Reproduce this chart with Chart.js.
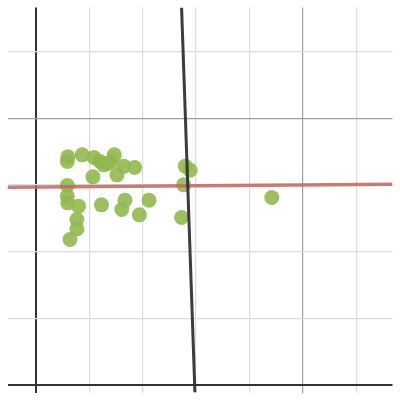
<!DOCTYPE html>
<html><head><script src="https://cdn.jsdelivr.net/npm/chart.js@4"></script>
<style>html,body{margin:0;padding:0;background:#fff}#w{width:400px;height:400px}</style></head>
<body><div id="w"><canvas id="c"></canvas></div>
<script>
const xs=[0.60,0.59,0.87,1.09,1.20,1.27,1.34,1.41,1.47,1.65,1.85,1.07,1.52,0.59,0.59,0.60,0.80,1.23,1.67,1.61,2.12,1.94,0.77,0.77,0.64,2.80,2.89,2.77,2.73,4.42];
const ys=[3.42,3.35,3.45,3.41,3.35,3.30,3.32,3.35,3.45,3.28,3.26,3.12,3.15,2.99,2.83,2.73,2.68,2.70,2.77,2.63,2.77,2.55,2.48,2.34,2.18,3.28,3.22,3.00,2.51,2.81];
const xTicks=[0,1,2,3,4,5,6], yTicks=[0,1,2,3,4,5];
const redX=[-0.53,6.68], redY=[2.965,3.009];
const blackX=[2.73,2.98], blackY=[5.66,-0.115];
const pts=xs.map((x,i)=>({x,y:ys[i]}));
const gcol=(c,maj)=>c.tick.value===0?'#333':(c.tick.value%maj===0?'#a0a0a0':'#dcdcdc');
new Chart(document.getElementById('c'),{type:'scatter',data:{datasets:[
{data:redX.map((x,i)=>({x,y:redY[i]})),showLine:true,borderColor:'rgba(195,100,100,0.85)',borderWidth:3.5,pointRadius:0,order:2},
{data:pts,backgroundColor:'rgba(145,185,80,0.9)',borderWidth:0,pointRadius:7.5,order:3},
{data:blackX.map((x,i)=>({x,y:blackY[i]})),showLine:true,borderColor:'rgba(50,50,50,0.95)',borderWidth:3,pointRadius:0,order:1}
]},options:{responsive:true,maintainAspectRatio:false,animation:false,layout:{padding:0},
plugins:{legend:{display:false},tooltip:{enabled:false}},
scales:{
x:{type:'linear',min:-0.53,max:6.68,border:{display:false},ticks:{display:false,padding:0},
afterBuildTicks:s=>{s.ticks=xTicks.map(v=>({value:v}));},afterFit:s=>{s.height=0;},
grid:{drawTicks:false,tickLength:0,lineWidth:c=>c.tick.value===0?2:1.2,color:c=>gcol(c,5)}},
y:{type:'linear',min:-0.115,max:5.66,border:{display:false},ticks:{display:false,padding:0},
afterBuildTicks:s=>{s.ticks=yTicks.map(v=>({value:v}));},afterFit:s=>{s.width=0;},
grid:{drawTicks:false,tickLength:0,lineWidth:c=>c.tick.value===0?2:1.2,color:c=>gcol(c,4)}}
}}});
</script></body></html>
